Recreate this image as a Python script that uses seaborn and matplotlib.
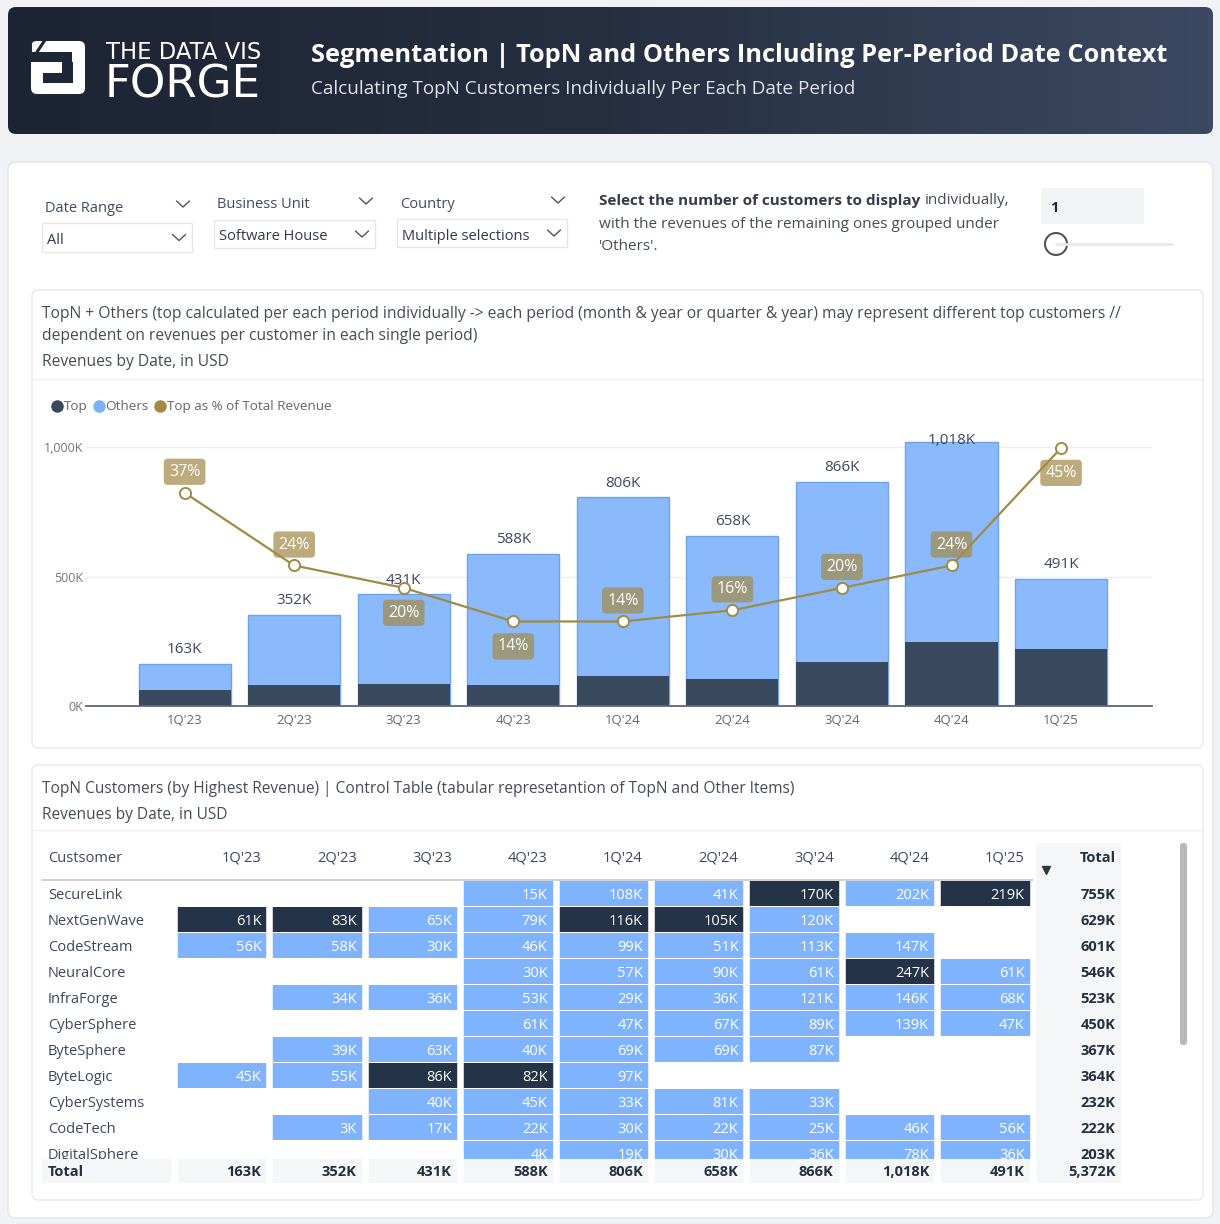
import numpy as np
import pandas as pd
import seaborn as sns
import matplotlib.pyplot as plt
from matplotlib.colors import ListedColormap, LinearSegmentedColormap
from matplotlib.patches import FancyBboxPatch, Rectangle, Circle
from matplotlib.lines import Line2D

# ---- data (revenues in K USD) ----
quarters = ["1Q'23", "2Q'23", "3Q'23", "4Q'23", "1Q'24", "2Q'24", "3Q'24", "4Q'24", "1Q'25"]
total_rev = [163, 352, 431, 588, 806, 658, 866, 1018, 491]
top_rev = [61, 83, 86, 82, 116, 105, 170, 247, 219]
top_pct = [37, 24, 20, 14, 14, 16, 20, 24, 45]
pct_side = [1, 1, -1, -1, 1, 1, 1, 1, -1]   # label above (1) or below (-1) the point

customers = ['SecureLink', 'NextGenWave', 'CodeStream', 'NeuralCore', 'InfraForge',
             'CyberSphere', 'ByteSphere', 'ByteLogic', 'CyberSystems', 'CodeTech',
             'DigitalSphere']
n = np.nan
rev_securelink = [n, n, n, 15, 108, 41, 170, 202, 219]
rev_nextgenwave = [61, 83, 65, 79, 116, 105, 120, n, n]
rev_codestream = [56, 58, 30, 46, 99, 51, 113, 147, n]
rev_neuralcore = [n, n, n, 30, 57, 90, 61, 247, 61]
rev_infraforge = [n, 34, 36, 53, 29, 36, 121, 146, 68]
rev_cybersphere = [n, n, n, 61, 47, 67, 89, 139, 47]
rev_bytesphere = [n, 39, 63, 40, 69, 69, 87, n, n]
rev_bytelogic = [45, 55, 86, 82, 97, n, n, n, n]
rev_cybersystems = [n, n, 40, 45, 33, 81, 33, n, n]
rev_codetech = [n, 3, 17, 22, 30, 22, 25, 46, 56]
rev_digitalsphere = [n, n, n, 4, 19, 30, 36, 78, 36]
cust_total = [755, 629, 601, 546, 523, 450, 367, 364, 232, 222, 203]
top_customer = ['NextGenWave', 'NextGenWave', 'ByteLogic', 'ByteLogic', 'NextGenWave',
                'NextGenWave', 'SecureLink', 'NeuralCore', 'SecureLink']
grand_total = 5372

# ---- colours ----
c_page = '#f1f2f5'
c_others = '#8abafc'
c_top = '#3a4a5e'
c_gold = '#a08a44'
c_cell = '#80b3fd'
c_cell_top = '#253349'
c_txt = '#3b4859'
VA = 'center_baseline'

sns.set_style('white')
plt.rcParams['font.family'] = ['Open Sans', 'DejaVu Sans']

W, H = 1220, 1224
fig = plt.figure(figsize=(W / 100, H / 100), dpi=100)
fig.patch.set_facecolor(c_page)

# background / decoration axes in pixel coordinates
bg = fig.add_axes([0, 0, 1, 1], zorder=-1)
bg.set_xlim(0, W)
bg.set_ylim(H, 0)
bg.axis('off')


def card(x0, y0, x1, y1, fc='white', ec='#e3e4e8', r=8, lw=1):
    p = FancyBboxPatch((x0, y0), x1 - x0, y1 - y0,
                       boxstyle=f'round,pad=0,rounding_size={r}',
                       fc=fc, ec=ec, lw=lw)
    bg.add_patch(p)
    return p


def chevron(cx, cy, w=13, h=6, color='#555'):
    bg.plot([cx - w / 2, cx, cx + w / 2], [cy - h / 2, cy + h / 2, cy - h / 2],
            color=color, lw=1)


# header banner with gradient
hdr = card(8, 7, 1213, 134, fc='none', ec='none', r=8)
grad = np.linspace(0, 1, 256).reshape(1, -1)
hcmap = LinearSegmentedColormap.from_list('hdr', ['#1d2433', '#262f40', '#3c4962'])
im = bg.imshow(grad, extent=(8, 1213, 134, 7), cmap=hcmap, aspect='auto')
im.set_clip_path(hdr)
bg.set_xlim(0, W)
bg.set_ylim(H, 0)

# logo icon
dark = '#1f2736'
bg.add_patch(FancyBboxPatch((31, 41), 54, 53, boxstyle='round,pad=0,rounding_size=6',
                            fc='white', ec='none'))
bg.add_patch(Rectangle((31, 52), 41, 10, fc=dark, ec='none'))
bg.add_patch(Rectangle((62, 62), 11, 21, fc=dark, ec='none'))
bg.add_patch(Rectangle((43, 73), 30, 10, fc=dark, ec='none'))
bg.add_patch(Rectangle((29, 39), 3, 14, fc=dark, ec='none'))
bg.plot([45, 37], [40, 52], color=dark, lw=2.2)
bg.text(106, 50, 'THE DATA VIS', color='white', fontsize=16.3, va=VA,
        family=['DejaVu Sans'])
bg.text(105, 81, 'FORGE', color='white', fontsize=32.5, va=VA, family=['DejaVu Sans'])
bg.text(311, 53, 'Segmentation | TopN and Others Including Per-Period Date Context',
        color='white', fontsize=18.3, fontweight='bold', va=VA)
bg.text(311, 87, 'Calculating TopN Customers Individually Per Each Date Period',
        color='#dfe3ea', fontsize=13.6, va=VA)

# main panel and cards
card(8, 162, 1213, 1218, r=8)
card(32, 290, 1203, 748, r=6, ec='#e8e9ec')
card(32, 765, 1203, 1200, r=6, ec='#e8e9ec')
bg.plot([33, 1202], [379, 379], color='#eeeeee', lw=1)
bg.plot([33, 1202], [830, 830], color='#eeeeee', lw=1)

# slicers
slicers = [('Date Range', 'All', 45, 205, 42, 223, 192, 252),
           ('Business Unit', 'Software House', 217, 202, 214, 220, 375, 248),
           ('Country', 'Multiple selections', 400, 201, 397, 219, 567, 247)]
for lab, val, lx, ly, bx0, by0, bx1, by1 in slicers:
    bg.text(lx, ly + 1, lab, color='#3e4c60', fontsize=10.5, va=VA)
    chevron(bx1 - 9, ly - 1)
    bg.add_patch(Rectangle((bx0, by0), bx1 - bx0, by1 - by0, fc='white', ec='#e6e6e6', lw=1))
    bg.text(bx0 + 5, (by0 + by1) / 2 + 1, val, color='#2f3a48', fontsize=10.5, va=VA)
    chevron(bx1 - 13, (by0 + by1) / 2)

r = fig.canvas.get_renderer()
t1 = bg.text(599, 199, 'Select the number of customers to display', color='#333c48',
             fontsize=11, fontweight='bold', va=VA)
bb = t1.get_window_extent(renderer=r)
bg.text(bb.x1 + 4, 199, 'individually,', color='#444c56', fontsize=11, va=VA)
bg.text(599, 222, 'with the revenues of the remaining ones grouped under', color='#444c56',
        fontsize=11, va=VA)
bg.text(599, 244, "'Others'.", color='#444c56', fontsize=11, va=VA)
bg.add_patch(Rectangle((1041, 188), 103, 36, fc='#f3f4f6', ec='none'))
bg.text(1050, 206, '1', color='#1e2a3a', fontsize=10.5, fontweight='bold', va=VA)
bg.plot([1056, 1172], [244, 244], color='#e8e8e8', lw=2)
bg.add_patch(Circle((1056, 244), 11, fc='white', ec='#555555', lw=1.5))

# chart card titles
bg.text(42, 312, 'TopN + Others (top calculated per each period individually -> each period '
        '(month & year or quarter & year) may represent different top customers //',
        color='#444c56', fontsize=11.25, va=VA)
bg.text(42, 334, 'dependent on revenues per customer in each single period)',
        color='#444c56', fontsize=11.25, va=VA)
bg.text(42, 360, 'Revenues by Date, in USD', color='#444c56', fontsize=11.25, va=VA)

bg.text(42, 787, 'TopN Customers (by Highest Revenue) | Control Table (tabular '
        'represetantion of TopN and Other Items)', color='#444c56', fontsize=11.2, va=VA)
bg.text(42, 813, 'Revenues by Date, in USD', color='#444c56', fontsize=11.2, va=VA)

# scrollbar
bg.add_patch(FancyBboxPatch((1180, 843), 7, 202, boxstyle='round,pad=0,rounding_size=3',
                            fc='#b8b8b8', ec='none'))

# ---- combo chart ----
df = pd.DataFrame({'quarter': quarters, 'total': total_rev, 'top': top_rev, 'pct': top_pct})

ax = fig.add_axes([86 / W, 1 - 706 / H, (1152 - 86) / W, (706 - 430) / H], zorder=1)
ax.patch.set_visible(False)
sns.barplot(data=df, x='quarter', y='total', order=quarters, color=c_others, saturation=1,
            width=0.84, edgecolor='#6fa3ee', linewidth=1, ax=ax)
sns.barplot(data=df, x='quarter', y='top', order=quarters, color=c_top, saturation=1,
            width=0.84, linewidth=0, ax=ax)
ax.set_ylim(0, 1066)
ax.set_yticks([0, 500, 1000])
ax.set_yticklabels(['0K', '500K', '1,000K'])
ax.yaxis.grid(True, color='#efefef', lw=1)
ax.set_axisbelow(True)
ax.set_xlabel('')
ax.set_ylabel('')
for s in ['top', 'right', 'left']:
    ax.spines[s].set_visible(False)
ax.spines['bottom'].set_color('#5d6876')
ax.spines['bottom'].set_linewidth(1.3)
ax.tick_params(axis='y', length=0, pad=2, labelsize=9, labelcolor='#777777')
ax.tick_params(axis='x', length=0, pad=6, labelsize=9.5, labelcolor='#666666')

for i, v in enumerate(total_rev):
    ax.text(i, min(v + 62, 1035), f'{v:,}K', ha='center', va=VA,
            fontsize=11, color='#3c4a5d')

ax2 = ax.twinx()
sns.pointplot(data=df, x='quarter', y='pct', order=quarters, color=c_gold, errorbar=None,
              markers='o', ax=ax2)
for ln in ax2.lines:
    ln.set_linewidth(1.6)
    ln.set_markersize(8)
    ln.set_markerfacecolor('white')
    ln.set_markeredgecolor(c_gold)
    ln.set_markeredgewidth(1.4)
ax2.set_ylim(-1.1, 48.2)
ax2.set_yticks([])
ax2.set_ylabel('')
for s in ax2.spines.values():
    s.set_visible(False)
for i, (p, d) in enumerate(zip(top_pct, pct_side)):
    ax2.text(i, p + d * 4.1, f'{p}%', ha='center', va=VA, color='white', fontsize=11.5,
             bbox=dict(boxstyle='round,pad=0.32,rounding_size=0.25', fc='#a38b4a',
                       ec='none', alpha=0.72))
ax.set_xlim(-0.9, 8.83)

handles = [Line2D([], [], marker='o', ls='', color=c, markersize=8)
           for c in [c_top, '#7cb2fb', c_gold]]
fig.legend(handles, ['Top', 'Others', 'Top as % of Total Revenue'], loc='center left',
           bbox_to_anchor=(38 / W, 1 - 407 / H), ncol=3, frameon=False, fontsize=9.7,
           handletextpad=0.0, columnspacing=0.35, handlelength=1.0, labelcolor='#666666')

# ---- control table ----
rows = [rev_securelink, rev_nextgenwave, rev_codestream, rev_neuralcore, rev_infraforge,
        rev_cybersphere, rev_bytesphere, rev_bytelogic, rev_cybersystems, rev_codetech,
        rev_digitalsphere]
vals = pd.DataFrame(rows, index=customers, columns=quarters)
codes = vals.notna().astype(int)
for q, c in zip(quarters, top_customer):
    codes.loc[c, q] = 2

tab = fig.add_axes([174 / W, 1 - 1159 / H, 858.6 / W, 279 / H], zorder=1)
sns.heatmap(codes, cmap=ListedColormap(['#ffffff', c_cell, c_cell_top]), vmin=-0.5,
            vmax=2.5, cbar=False, linewidths=0.6, linecolor='#ffffff',
            xticklabels=False, yticklabels=False, ax=tab)
for j in range(len(quarters) + 1):
    tab.axvline(j, color='white', lw=4.7)
tab.set_ylim(10.73, 0)
tab.set_xlabel('')
tab.set_ylabel('')

for i, cname in enumerate(customers):
    tab.text(-1.32, i + 0.5, cname, ha='left', va=VA, fontsize=10.5, color=c_txt,
             clip_on=False)
    for j, q in enumerate(quarters):
        v = vals.loc[cname, q]
        if not np.isnan(v):
            tab.text(j + 0.915, i + 0.5, f'{int(v)}K', ha='right', va=VA,
                     fontsize=10.5, color='white')
    tab.text(9.87, i + 0.5, f'{cust_total[i]}K', ha='right', va=VA, fontsize=10.5,
             fontweight='bold', color='#252f3f', clip_on=False)

# header row
tab.text(-1.32, -0.92, 'Custsomer', ha='left', va=VA, fontsize=10.5, color=c_txt,
         clip_on=False)
for j, q in enumerate(quarters):
    tab.text(j + 0.915, -0.92, q, ha='right', va=VA, fontsize=10.5, color=c_txt,
             clip_on=False)
tab.add_patch(Rectangle((9.035, -1.42), 0.895, 12.15, fc='#f5f6f8', ec='none',
                        clip_on=False, zorder=0.5))
tab.text(9.87, -0.92, 'Total', ha='right', va=VA, fontsize=10.5, fontweight='bold',
         color='#252f3f', clip_on=False)
tab.plot([9.14], [-0.38], marker='v', color='#2b3646', markersize=6, clip_on=False)
tab.plot([-1.38, 9.0], [0, 0], color='#c9c9c9', lw=1.2, clip_on=False)

# total row
tab.add_patch(Rectangle((-1.38, 10.73), 11.31, 0.92, fc='#f5f6f8', ec='none',
                        clip_on=False, zorder=10))
for j in range(len(quarters) + 1):
    tab.plot([j, j], [10.73, 11.65], color='white', lw=4.7, clip_on=False, zorder=11)
tab.text(-1.32, 11.19, 'Total', ha='left', va=VA, fontsize=10.5, fontweight='bold',
         color='#252f3f', clip_on=False, zorder=12)
for j, v in enumerate(total_rev):
    tab.text(j + 0.915, 11.19, f'{v:,}K', ha='right', va=VA, fontsize=10.5,
             fontweight='bold', color='#252f3f', clip_on=False, zorder=12)
tab.text(9.87, 11.19, f'{grand_total:,}K', ha='right', va=VA, fontsize=10.5,
         fontweight='bold', color='#252f3f', clip_on=False, zorder=12)

fig.savefig('out.png', dpi=100, facecolor=fig.get_facecolor())
